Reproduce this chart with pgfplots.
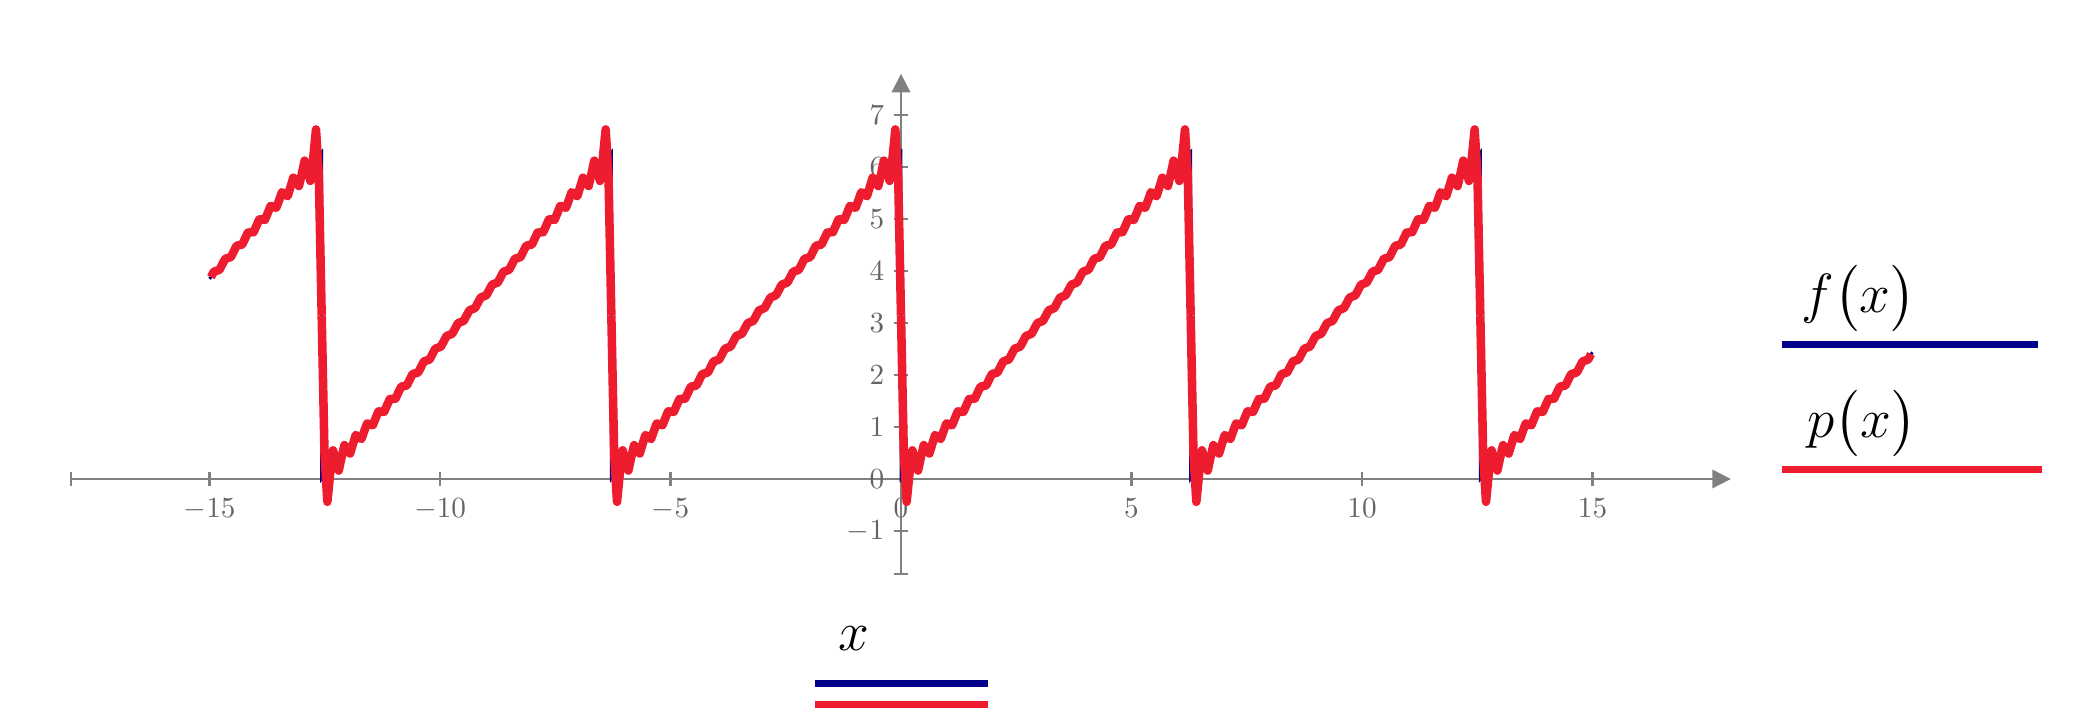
\documentclass[border=0pt]{standalone}
\usepackage{amsmath}
\usepackage{pgfplots}
\pgfplotsset{compat=1.18}
\usepackage{pgfplotstable}
\usetikzlibrary{arrows.meta}
\definecolor{fblue}{RGB}{0,0,139}
\definecolor{pred}{RGB}{237,28,46}
\definecolor{axgray}{RGB}{128,128,128}
\definecolor{labgray}{RGB}{100,100,100}

% one period of p(x) on [0, 2*pi]
\pgfplotstableread{
x p
0.0000 3.1416
0.0616 0.4617
0.1232 -0.4391
0.1848 0.1156
0.2464 0.5517
0.3080 0.3372
0.3696 0.1617
0.4312 0.4154
0.4928 0.6501
0.5544 0.5640
0.6160 0.4897
0.6776 0.6710
0.7392 0.8460
0.8008 0.8055
0.8624 0.7686
0.9240 0.9240
0.9856 1.0685
1.0472 1.0472
1.1088 1.0343
1.1704 1.1704
1.2320 1.2999
1.2936 1.2936
1.3552 1.2926
1.4168 1.4168
1.4784 1.5366
1.5400 1.5400
1.6016 1.5470
1.6632 1.6632
1.7248 1.7764
1.7864 1.7864
1.8480 1.7989
1.9096 1.9096
1.9712 2.0182
2.0328 2.0328
2.0944 2.0491
2.1560 2.1560
2.2176 2.2614
2.2792 2.2792
2.3408 2.2982
2.4024 2.4024
2.4640 2.5056
2.5256 2.5256
2.5872 2.5464
2.6488 2.6488
2.7104 2.7505
2.7720 2.7720
2.8336 2.7939
2.8952 2.8952
2.9568 2.9962
3.0184 3.0184
3.0800 3.0408
3.1416 3.1416
3.2032 3.2424
3.2648 3.2648
3.3264 3.2870
3.3880 3.3880
3.4496 3.4893
3.5112 3.5112
3.5728 3.5327
3.6344 3.6344
3.6960 3.7368
3.7576 3.7576
3.8192 3.7776
3.8808 3.8808
3.9424 3.9850
4.0040 4.0040
4.0656 4.0218
4.1272 4.1272
4.1888 4.2341
4.2504 4.2504
4.3120 4.2650
4.3736 4.3736
4.4352 4.4843
4.4968 4.4968
4.5584 4.5068
4.6200 4.6200
4.6816 4.7362
4.7432 4.7432
4.8048 4.7466
4.8664 4.8664
4.9280 4.9906
4.9896 4.9896
5.0512 4.9833
5.1128 5.1128
5.1744 5.2489
5.2360 5.2360
5.2976 5.2147
5.3592 5.3592
5.4208 5.5146
5.4824 5.4777
5.5440 5.4372
5.6056 5.6122
5.6672 5.7935
5.7288 5.7192
5.7904 5.6331
5.8520 5.8678
5.9136 6.1215
5.9752 5.9460
6.0368 5.7315
6.0984 6.1676
6.1600 6.7223
6.2216 5.8215
6.2832 3.1416
}\period

\begin{document}
\begin{tikzpicture}
\path[use as bounding box] (0,0) rectangle (784.875pt,269.25pt);
\begin{axis}[
  at={(26.7pt,54.135pt)}, anchor=south west,
  scale only axis, width=622.35pt, height=187.4pt,
  xmin=-18, xmax=18, ymin=-1.82, ymax=7.79,
  axis lines=middle,
  axis line style={draw=axgray, line width=0.8pt, -{Triangle[length=6.9pt,width=6.9pt]}},
  xtick={-15,-10,-5,0,5,10,15},
  ytick={-1,0,1,2,3,4,5,6,7},
  extra x ticks={-18}, extra x tick labels={},
  extra y ticks={-1.82}, extra y tick labels={},
  extra tick style={grid=none},
  hide obscured x ticks=false, hide obscured y ticks=false,
  tick align=center, major tick length=5.5pt,
  tick style={draw=axgray, line width=0.8pt},
  xticklabel style={font=\fontsize{11}{13}\selectfont, text=labgray, anchor=north, yshift=-1pt},
  yticklabel style={font=\fontsize{11}{13}\selectfont, text=labgray, anchor=east},
  clip=false,
  redp/.style={pred, line width=3.2pt, line join=round, restrict x to domain=-15:15},
]
\addplot[fblue, line width=1.1pt] coordinates {
(-15,3.8496) (-12.5664,6.2832) (-12.5664,0) (-6.2832,6.2832) (-6.2832,0)
(0,6.2832) (0,0) (6.2832,6.2832) (6.2832,0) (12.5664,6.2832) (12.5664,0) (15,2.4336)};
\addplot[redp] table[x expr=\thisrow{x}-18.849556, y=p] {\period};
\addplot[redp] table[x expr=\thisrow{x}-12.566371, y=p] {\period};
\addplot[redp] table[x expr=\thisrow{x}-6.283185, y=p] {\period};
\addplot[redp] table[x=x, y=p] {\period};
\addplot[redp] table[x expr=\thisrow{x}+6.283185, y=p] {\period};
\addplot[redp] table[x expr=\thisrow{x}+12.566371, y=p] {\period};
\end{axis}
\node[font=\fontsize{21}{30}\selectfont] at (697.1pt,157.3pt) {$f\bigl(x\bigr)$};
\draw[fblue, line width=2.75pt] (668.25pt,140.06pt) -- (764.25pt,140.06pt);
\node[font=\fontsize{21}{30}\selectfont] at (698.25pt,110.44pt) {$p\bigl(x\bigr)$};
\draw[pred, line width=2.75pt] (668.25pt,93.19pt) -- (765.75pt,93.19pt);
\node[font=\fontsize{21}{30}\selectfont] at (320.25pt,29.81pt) {$x$};
\draw[fblue, line width=2.75pt] (305.6pt,12.94pt) -- (370.5pt,12.94pt);
\draw[pred, line width=2.75pt] (305.6pt,5.06pt) -- (370.5pt,5.06pt);
\end{tikzpicture}
\end{document}
